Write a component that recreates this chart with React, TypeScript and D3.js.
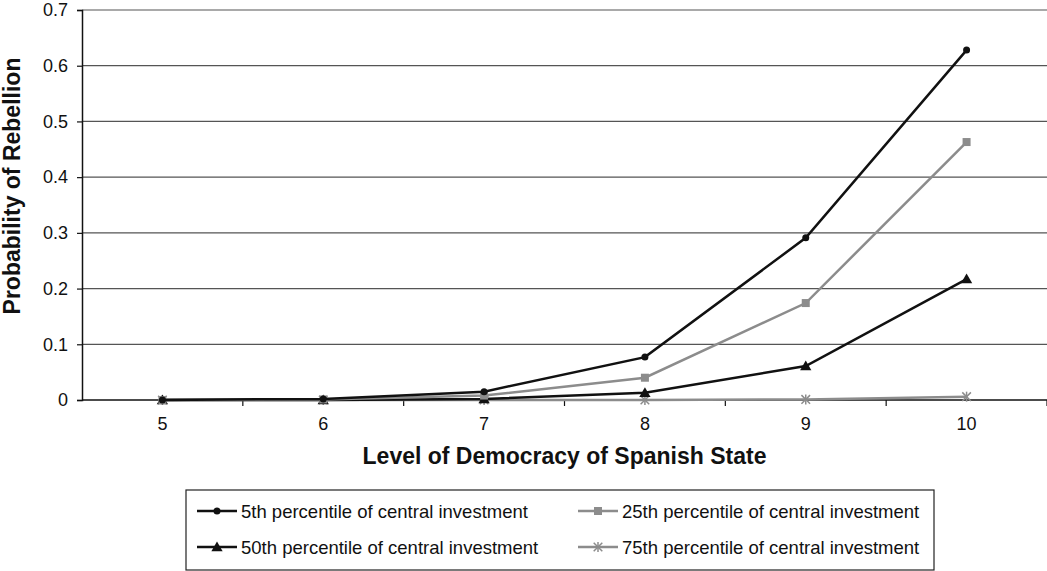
import * as d3 from "d3";
import { useEffect, useRef } from "react";

const LEVELS = [5, 6, 7, 8, 9, 10];
const Y_TICKS = [0, 0.1, 0.2, 0.3, 0.4, 0.5, 0.6, 0.7];

const P5 = [0, 0.002, 0.015, 0.077, 0.291, 0.628];
const P25 = [0, 0.001, 0.008, 0.04, 0.174, 0.463];
const P50 = [0, 0, 0.002, 0.013, 0.061, 0.217];
const P75 = [0, 0, 0, 0, 0.001, 0.006];

const SERIES = [
  { name: "5th percentile of central investment", values: P5, color: "#111", marker: "circle" },
  { name: "25th percentile of central investment", values: P25, color: "#8c8c8c", marker: "square" },
  { name: "50th percentile of central investment", values: P50, color: "#111", marker: "triangle" },
  { name: "75th percentile of central investment", values: P75, color: "#8c8c8c", marker: "star" },
];

const W = 1047;
const H = 571;
const FONT = "'Liberation Sans', Arial, sans-serif";

function drawMarker(g: d3.Selection<SVGGElement, unknown, null, undefined>, type: string, x: number, y: number, color: string) {
  if (type === "circle") {
    g.append("circle").attr("cx", x).attr("cy", y).attr("r", 3.5).attr("fill", color);
  } else if (type === "square") {
    g.append("rect").attr("x", x - 4).attr("y", y - 4).attr("width", 8).attr("height", 8).attr("fill", color);
  } else if (type === "triangle") {
    g.append("path")
      .attr("d", d3.symbol(d3.symbolTriangle, 55)())
      .attr("transform", `translate(${x},${y + 1})`)
      .attr("fill", color);
  } else {
    g.append("path")
      .attr("d", d3.symbol(d3.symbolTimes, 50)())
      .attr("transform", `translate(${x},${y})`)
      .attr("fill", "none")
      .attr("stroke", color)
      .attr("stroke-width", 1.5);
    g.append("line").attr("x1", x).attr("x2", x).attr("y1", y - 5).attr("y2", y + 5)
      .attr("stroke", color).attr("stroke-width", 1.5);
  }
}

export default function App() {
  const svgRef = useRef<SVGSVGElement | null>(null);

  useEffect(() => {
    const margin = { top: 10, right: 0, bottom: 171, left: 82 };
    const innerWidth = W - margin.left - margin.right;
    const innerHeight = H - margin.top - margin.bottom;

    const svg = d3.select(svgRef.current);
    svg.selectAll("*").remove();

    const x = d3.scaleBand<number>().domain(LEVELS).range([0, innerWidth]);
    const y = d3.scaleLinear().domain([0, 0.7]).range([innerHeight, 0]);

    const g = svg.append("g").attr("transform", `translate(${margin.left},${margin.top})`);

    // gridlines
    g.append("g")
      .selectAll("line")
      .data(Y_TICKS.filter(t => t > 0))
      .enter()
      .append("line")
      .attr("x1", 0)
      .attr("x2", innerWidth)
      .attr("y1", d => y(d))
      .attr("y2", d => y(d))
      .attr("stroke", "#555")
      .attr("stroke-width", 1.2);

    // Y axis
    const yAxis = g.append("g").call(
      d3.axisLeft(y).tickValues(Y_TICKS).tickFormat(d => (d === 0 ? "0" : d3.format(".1f")(d as number))).tickSize(5).tickPadding(9)
    );
    yAxis.select(".domain").attr("stroke", "#111").attr("stroke-width", 1.5);
    yAxis.selectAll(".tick line").attr("stroke", "#111").attr("stroke-width", 1.2);
    yAxis.selectAll("text").attr("font-size", 18).attr("font-family", FONT).attr("fill", "#111");

    // X axis
    const xAxis = g.append("g").attr("transform", `translate(0,${innerHeight})`);
    xAxis.append("line").attr("x1", 0).attr("x2", innerWidth).attr("stroke", "#111").attr("stroke-width", 1.5);
    xAxis.selectAll("line.tk")
      .data(LEVELS)
      .enter()
      .append("line")
      .attr("class", "tk")
      .attr("x1", d => (x(d) ?? 0) + x.bandwidth())
      .attr("x2", d => (x(d) ?? 0) + x.bandwidth())
      .attr("y1", 0)
      .attr("y2", 6)
      .attr("stroke", "#111")
      .attr("stroke-width", 1.2);
    xAxis.selectAll("text")
      .data(LEVELS)
      .enter()
      .append("text")
      .attr("x", d => (x(d) ?? 0) + x.bandwidth() / 2)
      .attr("y", 30)
      .attr("text-anchor", "middle")
      .attr("font-size", 18)
      .attr("font-family", FONT)
      .attr("fill", "#111")
      .text(d => d);

    // axis titles
    g.append("text")
      .attr("x", innerWidth / 2)
      .attr("y", innerHeight + 64)
      .attr("text-anchor", "middle")
      .attr("font-size", 23)
      .attr("font-weight", "bold")
      .attr("font-family", FONT)
      .attr("fill", "#111")
      .text("Level of Democracy of Spanish State");

    g.append("text")
      .attr("transform", `translate(${-62},${innerHeight / 2 - 19}) rotate(-90)`)
      .attr("text-anchor", "middle")
      .attr("font-size", 23)
      .attr("font-weight", "bold")
      .attr("font-family", FONT)
      .attr("fill", "#111")
      .text("Probability of Rebellion");

    // lines
    const line = d3
      .line<number>()
      .x((_, i) => (x(LEVELS[i]) ?? 0) + x.bandwidth() / 2)
      .y(d => y(d));

    const order = [3, 2, 1, 0];
    order.forEach(i => {
      const s = SERIES[i];
      g.append("path")
        .attr("d", line(s.values))
        .attr("fill", "none")
        .attr("stroke", s.color)
        .attr("stroke-width", 2.5);
      const mg = g.append("g");
      s.values.forEach((v, j) => {
        drawMarker(mg, s.marker, (x(LEVELS[j]) ?? 0) + x.bandwidth() / 2, y(v), s.color);
      });
    });

    // legend
    const lg = svg.append("g").attr("transform", "translate(186,490)");
    lg.append("rect")
      .attr("x", 0)
      .attr("y", 0)
      .attr("width", 748)
      .attr("height", 80)
      .attr("fill", "white")
      .attr("stroke", "#222")
      .attr("stroke-width", 1.2);
    SERIES.forEach((s, i) => {
      const col = i % 2;
      const row = Math.floor(i / 2);
      const lx = 11 + col * 381;
      const ly = 21 + row * 36;
      const item = lg.append("g");
      item.append("line")
        .attr("x1", lx)
        .attr("x2", lx + 40)
        .attr("y1", ly)
        .attr("y2", ly)
        .attr("stroke", s.color)
        .attr("stroke-width", 2.5);
      drawMarker(item, s.marker, lx + 20, ly, s.color);
      item.append("text")
        .attr("x", lx + 44)
        .attr("y", ly + 6.5)
        .attr("font-size", 18.5)
        .attr("font-family", FONT)
        .attr("fill", "#111")
        .text(s.name);
    });
  }, []);

  return (
    <svg
      ref={svgRef}
      width={W}
      height={H}
      style={{ position: "absolute", left: 0, top: 0, background: "white" }}
    />
  );
}
